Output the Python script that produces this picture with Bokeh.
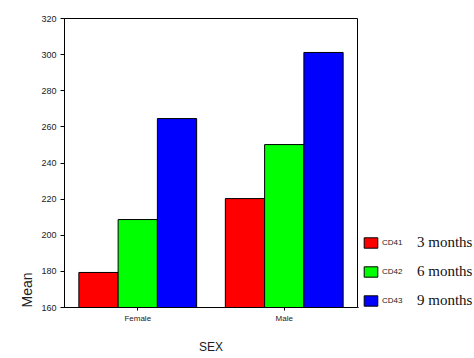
from bokeh.plotting import figure
from bokeh.models import FactorRange, Range1d, Legend, LegendItem, ColumnDataSource, FixedTicker, Title
from bokeh.transform import dodge
from bokeh.layouts import row
from bokeh.embed import file_html
from bokeh.resources import INLINE

sexes = ["Female", "Male"]
cd41 = [179.4, 220.3]
cd42 = [208.7, 250.2]
cd43 = [264.6, 301.2]
series_names = ["CD41", "CD42", "CD43"]
month_labels = ["3 months", "6 months", "9 months"]
colors = ["#ff0000", "#00ff00", "#0000ff"]
y_ticks = [160, 180, 200, 220, 240, 260, 280, 300, 320]

src = ColumnDataSource(dict(sex=sexes, cd41=cd41, cd42=cd42, cd43=cd43))

p = figure(width=358, height=358, x_range=FactorRange(*sexes, range_padding=0),
           y_range=Range1d(160, 320), output_backend="svg", toolbar_location=None,
           min_border_left=64, min_border_right=1, min_border_top=18, min_border_bottom=51)

bw = 0.268
for i, (col, c) in enumerate(zip(["cd41", "cd42", "cd43"], colors)):
    p.vbar(x=dodge("sex", (i - 1) * bw, range=p.x_range), top=col, bottom=160,
           width=bw, source=src, fill_color=c, line_color="black", line_width=1)

p.xgrid.visible = False
p.ygrid.visible = False
p.outline_line_color = "black"
p.outline_line_width = 1
p.background_fill_color = "white"
p.border_fill_color = "white"

p.yaxis.ticker = FixedTicker(ticks=y_ticks)
p.yaxis.minor_tick_line_color = None
p.yaxis.major_tick_out = 4
p.yaxis.major_tick_in = 0
p.yaxis.axis_line_color = "black"
p.yaxis.major_label_text_font = "Liberation Sans"
p.yaxis.major_label_text_font_size = "9px"
p.yaxis.major_label_text_color = "#222222"
p.yaxis.major_label_standoff = 4

p.xaxis.major_tick_out = 3
p.xaxis.major_tick_in = 0
p.xaxis.axis_line_color = "black"
p.xaxis.major_label_text_font = "Liberation Sans"
p.xaxis.major_label_text_font_size = "8px"
p.xaxis.major_label_text_color = "#222222"
p.xaxis.major_label_standoff = 3
p.xaxis.axis_label = "SEX"
p.xaxis.axis_label_text_font = "Liberation Sans"
p.xaxis.axis_label_text_font_style = "normal"
p.xaxis.axis_label_text_color = "#222222"
p.xaxis.axis_label_text_font_size = "12px"
p.xaxis.axis_label_standoff = 14

mean_title = Title(text="Mean", align="left", text_font="Liberation Sans", text_font_style="normal",
                   text_font_size="14px", text_color="#222222", offset=0, standoff=8)
p.add_layout(mean_title, "left")

# legend panel to the right of the chart (its frame is aligned with the chart's frame)
q = figure(width=116, height=358, x_range=Range1d(0, 1), y_range=Range1d(0, 1),
           output_backend="svg", toolbar_location=None,
           min_border_left=0, min_border_right=0, min_border_top=0, min_border_bottom=0)
q.axis.visible = False
q.grid.visible = False
q.outline_line_color = None
q.background_fill_color = "white"
q.border_fill_color = "white"

# swatch carriers placed outside the visible range, only their legend glyphs show
swatches = [q.vbar(x=-5, top=-5, bottom=-6, width=0.1, fill_color=c, line_color="black", line_width=1)
            for c in colors]
blank = q.scatter(x=-5, y=-5, size=1, fill_alpha=0, line_alpha=0)

items = [LegendItem(label=n, renderers=[r]) for n, r in zip(series_names, swatches)]
legend = Legend(items=items, location=(4, 0), padding=0, margin=0, spacing=16,
                glyph_width=17, glyph_height=13, label_height=13, label_standoff=3,
                label_text_font="Liberation Sans", label_text_font_size="8px",
                label_text_color="#222222",
                border_line_alpha=0, background_fill_alpha=0)
q.add_layout(legend)

items2 = [LegendItem(label=m, renderers=[blank]) for m in month_labels]
legend2 = Legend(items=items2, location=(58, -2), padding=0, margin=0, spacing=12,
                 glyph_width=1, glyph_height=13, label_height=17, label_standoff=0,
                 label_text_font="Liberation Serif", label_text_font_size="15px",
                 label_text_color="#111111",
                 border_line_alpha=0, background_fill_alpha=0)
q.add_layout(legend2)

open("out.html", "w").write(file_html(row(p, q), INLINE))
